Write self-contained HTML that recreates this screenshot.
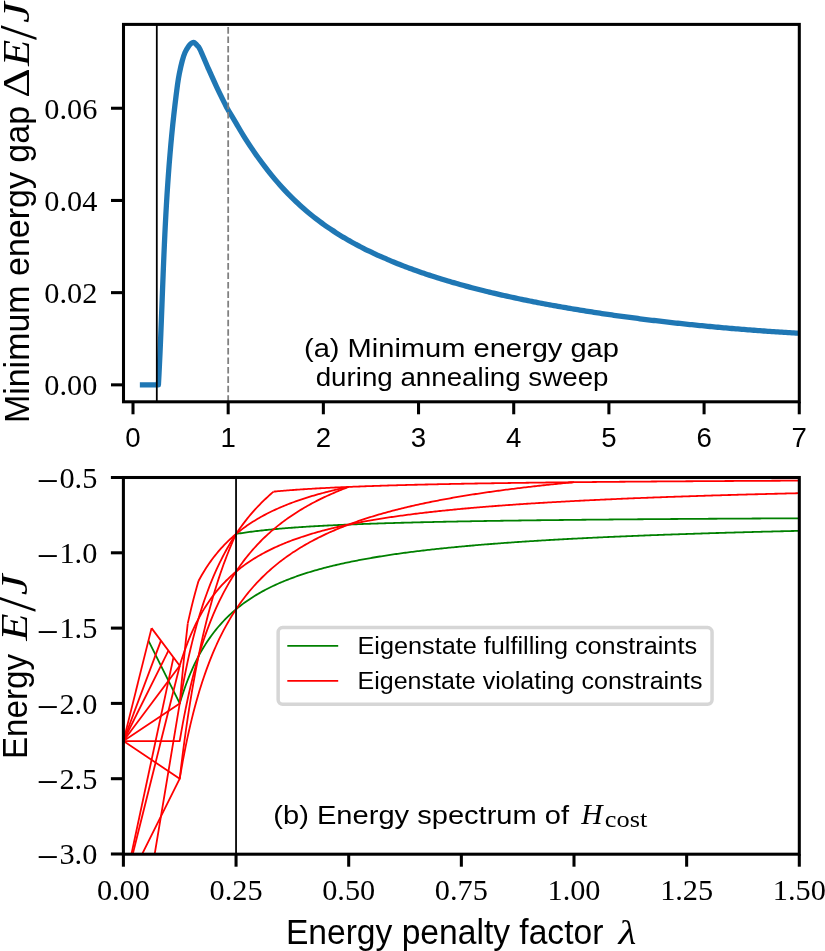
<!DOCTYPE html>
<html><head><meta charset="utf-8"><title>Energy gap and spectrum</title>
<style>html,body{margin:0;padding:0;background:#fff;}svg{display:block;}</style></head>
<body><svg width="825" height="951" viewBox="0 0 825 951">
<rect width="825" height="951" fill="#fff"/>
<defs><clipPath id="ct"><rect x="123.5" y="24.4" width="675.8" height="377.4"/></clipPath>
<clipPath id="cb"><rect x="123.4" y="477.5" width="675.9" height="376.7"/></clipPath></defs>
<g clip-path="url(#ct)">
<path d="M142.5,384.85 L158.41,384.85 L158.95,374.85 L159.45,364.85 L159.92,354.85 L160.36,344.85 L160.78,334.85 L161.18,324.85 L161.57,314.85 L161.96,304.85 L162.33,294.85 L162.72,284.85 L163.11,274.85 L163.51,264.85 L163.93,254.85 L164.37,244.85 L164.83,234.85 L165.32,224.85 L165.85,214.85 L166.42,204.85 L167.02,194.85 L167.68,184.85 L168.38,174.85 L169.13,164.85 L169.95,154.85 L170.82,144.85 L171.75,134.85 L172.75,124.85 L173.82,114.85 L174.97,104.85 L176.19,94.85 L177.48,84.85  C178,81.34 178.51,77.78 179.3,73.8 C180.09,69.82 181.25,64.55 182.2,61 C183.15,57.45 183.9,55 185,52.5 C186.1,50 187.72,47.55 188.8,46 C189.88,44.45 190.72,43.82 191.5,43.2 C192.28,42.58 193.17,42.45 193.5,42.3 C193.8,42.48 194.67,42.85 195.3,43.4 C195.93,43.95 196.52,44.6 197.3,45.6 C198.08,46.6 198.22,45.7 200,49.4 C201.78,53.1 205.23,61.57 208,67.8 C210.77,74.03 213.68,80.6 216.6,86.8 C219.52,93 223.62,101.2 225.5,105 C227.38,108.8 227.5,108.83 227.9,109.6 C229.23,111.82 233.9,119.55 235.9,122.9 C237.9,126.26 238.57,127.51 239.9,129.74 C241.23,131.97 242.57,134.15 243.9,136.29 C245.23,138.44 246.57,140.53 247.9,142.59 C249.23,144.64 250.57,146.66 251.9,148.63 C253.23,150.61 254.57,152.55 255.9,154.45 C257.23,156.35 258.57,158.21 259.9,160.04 C261.23,161.87 262.57,163.66 263.9,165.42 C265.23,167.18 266.57,168.91 267.9,170.6 C269.23,172.3 270.57,173.95 271.9,175.58 C273.23,177.21 274.57,178.81 275.9,180.37 C277.23,181.93 278.57,183.47 279.9,184.97 C281.23,186.47 282.57,187.94 283.9,189.38 C285.23,190.82 286.57,192.23 287.9,193.61 C289.23,194.99 290.57,196.33 291.9,197.65 C293.23,198.97 294.57,200.26 295.9,201.53 C297.23,202.79 298.57,204.03 299.9,205.24 C301.23,206.45 302.57,207.64 303.9,208.8 C305.23,209.96 306.57,211.1 307.9,212.21 C309.23,213.33 310.57,214.42 311.9,215.49 C313.23,216.56 314.57,217.61 315.9,218.64 C317.23,219.67 318.57,220.67 319.9,221.66 C321.23,222.65 322.57,223.62 323.9,224.57 C325.23,225.53 326.57,226.46 327.9,227.38 C329.23,228.29 330.57,229.19 331.9,230.07 C333.23,230.96 334.57,231.82 335.9,232.67 C337.23,233.52 338.57,234.36 339.9,235.18 C341.23,236 342.57,236.81 343.9,237.6 C345.23,238.39 346.57,239.17 347.9,239.94 C349.23,240.7 350.57,241.46 351.9,242.2 C353.23,242.94 354.57,243.66 355.9,244.38 C357.23,245.1 358.57,245.8 359.9,246.5 C361.23,247.19 362.57,247.87 363.9,248.54 C365.23,249.22 366.57,249.88 367.9,250.53 C369.23,251.18 370.57,251.83 371.9,252.46 C373.23,253.09 374.57,253.72 375.9,254.33 C377.23,254.95 378.57,255.55 379.9,256.15 C381.23,256.75 382.57,257.34 383.9,257.92 C385.23,258.51 386.57,259.08 387.9,259.65 C389.23,260.22 390.57,260.78 391.9,261.33 C393.23,261.88 394.57,262.43 395.9,262.97 C397.23,263.5 398.57,264.04 399.9,264.56 C401.23,265.09 402.57,265.6 403.9,266.12 C405.23,266.63 406.57,267.13 407.9,267.63 C409.23,268.13 410.57,268.63 411.9,269.11 C413.23,269.6 414.57,270.08 415.9,270.56 C417.23,271.03 418.57,271.5 419.9,271.97 C421.23,272.43 422.57,272.89 423.9,273.35 C425.23,273.8 426.57,274.25 427.9,274.69 C429.23,275.14 430.57,275.57 431.9,276.01 C433.23,276.44 434.57,276.87 435.9,277.29 C437.23,277.72 438.57,278.14 439.9,278.55 C441.23,278.97 442.57,279.38 443.9,279.78 C445.23,280.19 446.57,280.59 447.9,280.99 C449.23,281.38 450.57,281.78 451.9,282.17 C453.23,282.56 454.57,282.94 455.9,283.32 C457.23,283.7 458.57,284.08 459.9,284.45 C461.23,284.82 462.57,285.19 463.9,285.56 C465.23,285.92 466.57,286.28 467.9,286.64 C469.23,287 470.57,287.35 471.9,287.7 C473.23,288.05 474.57,288.4 475.9,288.75 C477.23,289.09 478.57,289.43 479.9,289.77 C481.23,290.1 482.57,290.44 483.9,290.77 C485.23,291.1 486.57,291.43 487.9,291.75 C489.23,292.08 490.57,292.4 491.9,292.71 C493.23,293.03 494.57,293.35 495.9,293.66 C497.23,293.97 498.57,294.28 499.9,294.59 C501.23,294.89 502.57,295.2 503.9,295.5 C505.23,295.8 506.57,296.1 507.9,296.39 C509.23,296.69 510.57,296.98 511.9,297.27 C513.23,297.56 514.57,297.85 515.9,298.13 C517.23,298.42 518.57,298.7 519.9,298.98 C521.23,299.26 522.57,299.54 523.9,299.81 C525.23,300.09 526.57,300.36 527.9,300.63 C529.23,300.9 530.57,301.17 531.9,301.43 C533.23,301.7 534.57,301.96 535.9,302.22 C537.23,302.49 538.57,302.74 539.9,303 C541.23,303.26 542.57,303.51 543.9,303.76 C545.23,304.02 546.57,304.27 547.9,304.51 C549.23,304.76 550.57,305.01 551.9,305.25 C553.23,305.49 554.57,305.74 555.9,305.98 C557.23,306.22 558.57,306.45 559.9,306.69 C561.23,306.93 562.57,307.16 563.9,307.39 C565.23,307.62 566.57,307.85 567.9,308.08 C569.23,308.31 570.57,308.53 571.9,308.76 C573.23,308.98 574.57,309.21 575.9,309.43 C577.23,309.65 578.57,309.87 579.9,310.08 C581.23,310.3 582.57,310.52 583.9,310.73 C585.23,310.94 586.57,311.16 587.9,311.37 C589.23,311.58 590.57,311.78 591.9,311.99 C593.23,312.2 594.57,312.4 595.9,312.61 C597.23,312.81 598.57,313.01 599.9,313.21 C601.23,313.41 602.57,313.61 603.9,313.81 C605.23,314 606.57,314.2 607.9,314.39 C609.23,314.59 610.57,314.78 611.9,314.97 C613.23,315.16 614.57,315.35 615.9,315.54 C617.23,315.73 618.57,315.91 619.9,316.1 C621.23,316.28 622.57,316.47 623.9,316.65 C625.23,316.83 626.57,317.01 627.9,317.19 C629.23,317.37 630.57,317.54 631.9,317.72 C633.23,317.9 634.57,318.07 635.9,318.24 C637.23,318.42 638.57,318.59 639.9,318.76 C641.23,318.93 642.57,319.1 643.9,319.27 C645.23,319.43 646.57,319.6 647.9,319.76 C649.23,319.93 650.57,320.09 651.9,320.26 C653.23,320.42 654.57,320.58 655.9,320.74 C657.23,320.9 658.57,321.06 659.9,321.21 C661.23,321.37 662.57,321.53 663.9,321.68 C665.23,321.83 666.57,321.99 667.9,322.14 C669.23,322.29 670.57,322.44 671.9,322.59 C673.23,322.74 674.57,322.89 675.9,323.03 C677.23,323.18 678.57,323.33 679.9,323.47 C681.23,323.61 682.57,323.76 683.9,323.9 C685.23,324.04 686.57,324.18 687.9,324.32 C689.23,324.46 690.57,324.6 691.9,324.73 C693.23,324.87 694.57,325.01 695.9,325.14 C697.23,325.28 698.57,325.41 699.9,325.54 C701.23,325.67 702.57,325.8 703.9,325.93 C705.23,326.06 706.57,326.19 707.9,326.32 C709.23,326.45 710.57,326.57 711.9,326.7 C713.23,326.82 714.57,326.95 715.9,327.07 C717.23,327.19 718.57,327.31 719.9,327.43 C721.23,327.56 722.57,327.67 723.9,327.79 C725.23,327.91 726.57,328.03 727.9,328.14 C729.23,328.26 730.57,328.37 731.9,328.49 C733.23,328.6 734.57,328.71 735.9,328.82 C737.23,328.94 738.57,329.05 739.9,329.15 C741.23,329.26 742.57,329.37 743.9,329.48 C745.23,329.59 746.57,329.69 747.9,329.8 C749.23,329.9 750.57,330 751.9,330.11 C753.23,330.21 754.57,330.31 755.9,330.41 C757.23,330.51 758.57,330.61 759.9,330.71 C761.23,330.8 762.57,330.9 763.9,331 C765.23,331.09 766.57,331.19 767.9,331.28 C769.23,331.37 770.57,331.47 771.9,331.56 C773.23,331.65 774.57,331.74 775.9,331.83 C777.23,331.92 778.57,332.01 779.9,332.09 C781.23,332.18 782.57,332.27 783.9,332.35 C785.23,332.44 786.57,332.52 787.9,332.6 C789.23,332.69 790.57,332.77 791.9,332.85 C793.23,332.93 794.57,333.01 795.9,333.09 C797.23,333.16 798.57,333.24 799.9,333.32 C801.23,333.39 803.23,333.51 803.9,333.54" fill="none" stroke="#1f77b4" stroke-width="5.3" stroke-linejoin="round" stroke-linecap="square"/>
</g>
<line x1="156.8" y1="24.4" x2="156.8" y2="401.8" stroke="#000" stroke-width="1.78"/>
<line x1="228.18" y1="401.8" x2="228.18" y2="24.4" stroke="#808080" stroke-width="1.78" stroke-dasharray="6.59 2.85"/>
<rect x="123.5" y="24.4" width="675.8" height="377.4" fill="none" stroke="#000" stroke-width="3.05"/>
<line x1="133" y1="401.8" x2="133" y2="414.3" stroke="#000" stroke-width="3.05"/>
<text x="133" y="447.1" font-family="Liberation Sans, sans-serif" font-size="27.6" text-anchor="middle">0</text>
<line x1="228.18" y1="401.8" x2="228.18" y2="414.3" stroke="#000" stroke-width="3.05"/>
<text x="228.18" y="447.1" font-family="Liberation Sans, sans-serif" font-size="27.6" text-anchor="middle">1</text>
<line x1="323.36" y1="401.8" x2="323.36" y2="414.3" stroke="#000" stroke-width="3.05"/>
<text x="323.36" y="447.1" font-family="Liberation Sans, sans-serif" font-size="27.6" text-anchor="middle">2</text>
<line x1="418.54" y1="401.8" x2="418.54" y2="414.3" stroke="#000" stroke-width="3.05"/>
<text x="418.54" y="447.1" font-family="Liberation Sans, sans-serif" font-size="27.6" text-anchor="middle">3</text>
<line x1="513.72" y1="401.8" x2="513.72" y2="414.3" stroke="#000" stroke-width="3.05"/>
<text x="513.72" y="447.1" font-family="Liberation Sans, sans-serif" font-size="27.6" text-anchor="middle">4</text>
<line x1="608.9" y1="401.8" x2="608.9" y2="414.3" stroke="#000" stroke-width="3.05"/>
<text x="608.9" y="447.1" font-family="Liberation Sans, sans-serif" font-size="27.6" text-anchor="middle">5</text>
<line x1="704.08" y1="401.8" x2="704.08" y2="414.3" stroke="#000" stroke-width="3.05"/>
<text x="704.08" y="447.1" font-family="Liberation Sans, sans-serif" font-size="27.6" text-anchor="middle">6</text>
<line x1="799.26" y1="401.8" x2="799.26" y2="414.3" stroke="#000" stroke-width="3.05"/>
<text x="799.26" y="447.1" font-family="Liberation Sans, sans-serif" font-size="27.6" text-anchor="middle">7</text>
<line x1="111" y1="384.85" x2="123.5" y2="384.85" stroke="#000" stroke-width="3.05"/>
<text x="97.3" y="395.35" font-family="Liberation Serif, serif" font-size="30.3" text-anchor="end">0.00</text>
<line x1="111" y1="292.65" x2="123.5" y2="292.65" stroke="#000" stroke-width="3.05"/>
<text x="97.3" y="303.15" font-family="Liberation Serif, serif" font-size="30.3" text-anchor="end">0.02</text>
<line x1="111" y1="200.45" x2="123.5" y2="200.45" stroke="#000" stroke-width="3.05"/>
<text x="97.3" y="210.95" font-family="Liberation Serif, serif" font-size="30.3" text-anchor="end">0.04</text>
<line x1="111" y1="108.25" x2="123.5" y2="108.25" stroke="#000" stroke-width="3.05"/>
<text x="97.3" y="118.75" font-family="Liberation Serif, serif" font-size="30.3" text-anchor="end">0.06</text>
<g transform="translate(28.7,420.4) rotate(-90)"><text x="-2.72" y="0.00" font-family="Liberation Sans, sans-serif" font-size="34.8" textLength="317.17" lengthAdjust="spacingAndGlyphs">Minimum energy gap</text><text x="322.65" y="0.00" font-family="Liberation Serif, serif" font-size="38" textLength="29.45" lengthAdjust="spacingAndGlyphs">&#916;</text><text x="354.30" y="0.00" font-family="Liberation Serif, serif" font-size="38" font-style="italic" textLength="26.2" lengthAdjust="spacingAndGlyphs">E</text><text x="380.30" y="7.70" font-family="Liberation Serif, serif" font-size="52.7">/</text><text x="397.30" y="0.00" font-family="Liberation Serif, serif" font-size="38" font-style="italic" textLength="20.6" lengthAdjust="spacingAndGlyphs">J</text></g>
<text x="303.96" y="356.60" font-family="Liberation Sans, sans-serif" font-size="26.5" textLength="314.99" lengthAdjust="spacingAndGlyphs">(a) Minimum energy gap</text>
<text x="315.69" y="386.20" font-family="Liberation Sans, sans-serif" font-size="26.5" textLength="292.78" lengthAdjust="spacingAndGlyphs">during annealing sweep</text>
<g id="lines" clip-path="url(#cb)" fill="none" stroke-width="1.8" stroke-linejoin="round">
<path d="M148.43,640.65 L179.73,703.40 L181.23,698.50 L182.73,693.86 L184.24,689.44 L185.74,685.24 L187.24,681.23 L188.75,677.41 L190.25,673.76 L191.76,670.27 L193.26,666.93 L194.76,663.73 L196.27,660.66 L197.77,657.72 L199.27,654.90 L200.78,652.18 L202.28,649.57 L203.79,647.05 L205.29,644.63 L206.79,642.30 L208.30,640.04 L209.80,637.87 L211.31,635.77 L212.81,633.74 L214.31,631.78 L215.82,629.88 L217.32,628.05 L218.82,626.27 L220.33,624.54 L221.83,622.87 L223.34,621.25 L224.84,619.68 L226.34,618.15 L227.85,616.67 L229.35,615.23 L230.85,613.83 L232.36,612.46 L233.86,611.14 L235.37,609.85 L236.87,608.59 L238.37,607.37 L239.88,606.18 L241.38,605.02 L242.89,603.89 L244.39,602.79 L245.89,601.71 L247.40,600.66 L248.90,599.64 L250.40,598.64 L251.91,597.66 L253.41,596.71 L254.92,595.77 L256.42,594.86 L257.92,593.97 L259.43,593.10 L260.93,592.25 L262.44,591.41 L263.94,590.60 L265.44,589.80 L266.95,589.02 L268.45,588.25 L269.95,587.50 L271.46,586.76 L272.96,586.04 L274.47,585.34 L275.97,584.65 L277.47,583.97 L278.98,583.30 L280.48,582.65 L281.98,582.01 L283.49,581.38 L284.99,580.77 L286.50,580.16 L288.00,579.57 L289.50,578.98 L291.01,578.41 L292.51,577.85 L294.02,577.30 L295.52,576.75 L297.02,576.22 L298.53,575.70 L300.03,575.18 L301.53,574.67 L303.04,574.18 L304.54,573.69 L306.05,573.20 L307.55,572.73 L309.05,572.26 L310.56,571.80 L312.06,571.35 L313.57,570.91 L315.07,570.47 L316.57,570.04 L318.08,569.62 L319.58,569.20 L321.08,568.79 L322.59,568.38 L324.09,567.98 L325.60,567.59 L327.10,567.20 L328.60,566.82 L330.11,566.45 L331.61,566.08 L333.11,565.71 L334.62,565.35 L336.12,565.00 L337.63,564.65 L339.13,564.30 L340.63,563.96 L342.14,563.62 L343.64,563.29 L345.15,562.97 L346.65,562.64 L348.15,562.33 L349.66,562.01 L351.16,561.70 L352.66,561.40 L354.17,561.10 L355.67,560.80 L357.18,560.51 L358.68,560.22 L360.18,559.93 L361.69,559.65 L363.19,559.37 L364.70,559.09 L366.20,558.82 L367.70,558.55 L369.21,558.29 L370.71,558.02 L372.21,557.76 L373.72,557.51 L375.22,557.26 L376.73,557.01 L378.23,556.76 L379.73,556.51 L381.24,556.27 L382.74,556.04 L384.24,555.80 L385.75,555.57 L387.25,555.34 L388.76,555.11 L390.26,554.88 L391.76,554.66 L393.27,554.44 L394.77,554.22 L396.28,554.01 L397.78,553.79 L399.28,553.58 L400.79,553.38 L402.29,553.17 L403.79,552.97 L405.30,552.76 L406.80,552.56 L408.31,552.37 L409.81,552.17 L411.31,551.98 L412.82,551.79 L414.32,551.60 L415.83,551.41 L417.33,551.22 L418.83,551.04 L420.34,550.86 L421.84,550.68 L423.34,550.50 L424.85,550.32 L426.35,550.15 L427.86,549.98 L429.36,549.81 L430.86,549.64 L432.37,549.47 L433.87,549.30 L435.37,549.14 L436.88,548.97 L438.38,548.81 L439.89,548.65 L441.39,548.49 L442.89,548.34 L444.40,548.18 L445.90,548.03 L447.41,547.88 L448.91,547.72 L450.41,547.57 L451.92,547.43 L453.42,547.28 L454.92,547.13 L456.43,546.99 L457.93,546.85 L459.44,546.70 L460.94,546.56 L462.44,546.42 L463.95,546.29 L465.45,546.15 L466.96,546.01 L468.46,545.88 L469.96,545.75 L471.47,545.61 L472.97,545.48 L474.47,545.35 L475.98,545.22 L477.48,545.10 L478.99,544.97 L480.49,544.84 L481.99,544.72 L483.50,544.60 L485.00,544.47 L486.50,544.35 L488.01,544.23 L489.51,544.11 L491.02,543.99 L492.52,543.88 L494.02,543.76 L495.53,543.64 L497.03,543.53 L498.54,543.41 L500.04,543.30 L501.54,543.19 L503.05,543.08 L504.55,542.97 L506.05,542.86 L507.56,542.75 L509.06,542.64 L510.57,542.54 L512.07,542.43 L513.57,542.33 L515.08,542.22 L516.58,542.12 L518.09,542.01 L519.59,541.91 L521.09,541.81 L522.60,541.71 L524.10,541.61 L525.60,541.51 L527.11,541.41 L528.61,541.32 L530.12,541.22 L531.62,541.12 L533.12,541.03 L534.63,540.93 L536.13,540.84 L537.63,540.75 L539.14,540.65 L540.64,540.56 L542.15,540.47 L543.65,540.38 L545.15,540.29 L546.66,540.20 L548.16,540.11 L549.67,540.02 L551.17,539.94 L552.67,539.85 L554.18,539.76 L555.68,539.68 L557.18,539.59 L558.69,539.51 L560.19,539.43 L561.70,539.34 L563.20,539.26 L564.70,539.18 L566.21,539.10 L567.71,539.01 L569.22,538.93 L570.72,538.85 L572.22,538.77 L573.73,538.70 L575.23,538.62 L576.73,538.54 L578.24,538.46 L579.74,538.39 L581.25,538.31 L582.75,538.23 L584.25,538.16 L585.76,538.08 L587.26,538.01 L588.76,537.93 L590.27,537.86 L591.77,537.79 L593.28,537.72 L594.78,537.64 L596.28,537.57 L597.79,537.50 L599.29,537.43 L600.80,537.36 L602.30,537.29 L603.80,537.22 L605.31,537.15 L606.81,537.08 L608.31,537.02 L609.82,536.95 L611.32,536.88 L612.83,536.81 L614.33,536.75 L615.83,536.68 L617.34,536.62 L618.84,536.55 L620.35,536.49 L621.85,536.42 L623.35,536.36 L624.86,536.29 L626.36,536.23 L627.86,536.17 L629.37,536.11 L630.87,536.04 L632.38,535.98 L633.88,535.92 L635.38,535.86 L636.89,535.80 L638.39,535.74 L639.89,535.68 L641.40,535.62 L642.90,535.56 L644.41,535.50 L645.91,535.44 L647.41,535.38 L648.92,535.33 L650.42,535.27 L651.93,535.21 L653.43,535.15 L654.93,535.10 L656.44,535.04 L657.94,534.99 L659.44,534.93 L660.95,534.88 L662.45,534.82 L663.96,534.77 L665.46,534.71 L666.96,534.66 L668.47,534.60 L669.97,534.55 L671.48,534.50 L672.98,534.44 L674.48,534.39 L675.99,534.34 L677.49,534.29 L678.99,534.23 L680.50,534.18 L682.00,534.13 L683.51,534.08 L685.01,534.03 L686.51,533.98 L688.02,533.93 L689.52,533.88 L691.02,533.83 L692.53,533.78 L694.03,533.73 L695.54,533.68 L697.04,533.63 L698.54,533.59 L700.05,533.54 L701.55,533.49 L703.06,533.44 L704.56,533.39 L706.06,533.35 L707.57,533.30 L709.07,533.25 L710.57,533.21 L712.08,533.16 L713.58,533.12 L715.09,533.07 L716.59,533.02 L718.09,532.98 L719.60,532.93 L721.10,532.89 L722.61,532.85 L724.11,532.80 L725.61,532.76 L727.12,532.71 L728.62,532.67 L730.12,532.63 L731.63,532.58 L733.13,532.54 L734.64,532.50 L736.14,532.45 L737.64,532.41 L739.15,532.37 L740.65,532.33 L742.15,532.29 L743.66,532.24 L745.16,532.20 L746.67,532.16 L748.17,532.12 L749.67,532.08 L751.18,532.04 L752.68,532.00 L754.19,531.96 L755.69,531.92 L757.19,531.88 L758.70,531.84 L760.20,531.80 L761.70,531.76 L763.21,531.72 L764.71,531.68 L766.22,531.64 L767.72,531.61 L769.22,531.57 L770.73,531.53 L772.23,531.49 L773.74,531.45 L775.24,531.42 L776.74,531.38 L778.25,531.34 L779.75,531.30 L781.25,531.27 L782.76,531.23 L784.26,531.19 L785.77,531.16 L787.27,531.12 L788.77,531.09 L790.28,531.05 L791.78,531.01 L793.28,530.98 L794.79,530.94 L796.29,530.91 L797.80,530.87 L799.30,530.84" stroke="#008000"/>
<path d="M236.05,533.98 L237.56,533.73 L239.06,533.48 L240.57,533.25 L242.07,533.02 L243.58,532.80 L245.09,532.58 L246.59,532.36 L248.10,532.16 L249.60,531.95 L251.11,531.76 L252.62,531.56 L254.12,531.37 L255.63,531.19 L257.13,531.01 L258.64,530.83 L260.15,530.66 L261.65,530.49 L263.16,530.32 L264.66,530.16 L266.17,530.00 L267.68,529.85 L269.18,529.70 L270.69,529.55 L272.19,529.40 L273.70,529.26 L275.21,529.12 L276.71,528.98 L278.22,528.85 L279.72,528.72 L281.23,528.59 L282.74,528.46 L284.24,528.33 L285.75,528.21 L287.25,528.09 L288.76,527.97 L290.27,527.86 L291.77,527.74 L293.28,527.63 L294.78,527.52 L296.29,527.42 L297.80,527.31 L299.30,527.21 L300.81,527.10 L302.31,527.00 L303.82,526.90 L305.33,526.81 L306.83,526.71 L308.34,526.62 L309.84,526.52 L311.35,526.43 L312.86,526.34 L314.36,526.25 L315.87,526.17 L317.37,526.08 L318.88,526.00 L320.39,525.92 L321.89,525.83 L323.40,525.75 L324.90,525.67 L326.41,525.60 L327.92,525.52 L329.42,525.44 L330.93,525.37 L332.44,525.29 L333.94,525.22 L335.45,525.15 L336.95,525.08 L338.46,525.01 L339.97,524.94 L341.47,524.87 L342.98,524.81 L344.48,524.74 L345.99,524.68 L347.50,524.61 L349.00,524.55 L350.51,524.49 L352.01,524.43 L353.52,524.37 L355.03,524.31 L356.53,524.25 L358.04,524.19 L359.54,524.13 L361.05,524.07 L362.56,524.02 L364.06,523.96 L365.57,523.91 L367.07,523.85 L368.58,523.80 L370.09,523.75 L371.59,523.69 L373.10,523.64 L374.60,523.59 L376.11,523.54 L377.62,523.49 L379.12,523.44 L380.63,523.39 L382.13,523.35 L383.64,523.30 L385.15,523.25 L386.65,523.21 L388.16,523.16 L389.66,523.11 L391.17,523.07 L392.68,523.03 L394.18,522.98 L395.69,522.94 L397.19,522.90 L398.70,522.85 L400.21,522.81 L401.71,522.77 L403.22,522.73 L404.72,522.69 L406.23,522.65 L407.74,522.61 L409.24,522.57 L410.75,522.53 L412.25,522.49 L413.76,522.45 L415.27,522.42 L416.77,522.38 L418.28,522.34 L419.78,522.31 L421.29,522.27 L422.80,522.23 L424.30,522.20 L425.81,522.16 L427.31,522.13 L428.82,522.09 L430.33,522.06 L431.83,522.03 L433.34,521.99 L434.84,521.96 L436.35,521.93 L437.86,521.89 L439.36,521.86 L440.87,521.83 L442.37,521.80 L443.88,521.77 L445.39,521.74 L446.89,521.71 L448.40,521.68 L449.90,521.64 L451.41,521.62 L452.92,521.59 L454.42,521.56 L455.93,521.53 L457.43,521.50 L458.94,521.47 L460.45,521.44 L461.95,521.41 L463.46,521.39 L464.96,521.36 L466.47,521.33 L467.98,521.30 L469.48,521.28 L470.99,521.25 L472.49,521.22 L474.00,521.20 L475.51,521.17 L477.01,521.15 L478.52,521.12 L480.02,521.10 L481.53,521.07 L483.04,521.05 L484.54,521.02 L486.05,521.00 L487.55,520.97 L489.06,520.95 L490.57,520.93 L492.07,520.90 L493.58,520.88 L495.08,520.86 L496.59,520.83 L498.10,520.81 L499.60,520.79 L501.11,520.76 L502.61,520.74 L504.12,520.72 L505.63,520.70 L507.13,520.68 L508.64,520.65 L510.14,520.63 L511.65,520.61 L513.16,520.59 L514.66,520.57 L516.17,520.55 L517.67,520.53 L519.18,520.51 L520.69,520.49 L522.19,520.47 L523.70,520.45 L525.21,520.43 L526.71,520.41 L528.22,520.39 L529.72,520.37 L531.23,520.35 L532.74,520.33 L534.24,520.31 L535.75,520.29 L537.25,520.27 L538.76,520.26 L540.27,520.24 L541.77,520.22 L543.28,520.20 L544.78,520.18 L546.29,520.16 L547.80,520.15 L549.30,520.13 L550.81,520.11 L552.31,520.09 L553.82,520.08 L555.33,520.06 L556.83,520.04 L558.34,520.03 L559.84,520.01 L561.35,519.99 L562.86,519.98 L564.36,519.96 L565.87,519.94 L567.37,519.93 L568.88,519.91 L570.39,519.89 L571.89,519.88 L573.40,519.86 L574.90,519.85 L576.41,519.83 L577.92,519.82 L579.42,519.80 L580.93,519.78 L582.43,519.77 L583.94,519.75 L585.45,519.74 L586.95,519.72 L588.46,519.71 L589.96,519.70 L591.47,519.68 L592.98,519.67 L594.48,519.65 L595.99,519.64 L597.49,519.62 L599.00,519.61 L600.51,519.59 L602.01,519.58 L603.52,519.57 L605.02,519.55 L606.53,519.54 L608.04,519.53 L609.54,519.51 L611.05,519.50 L612.55,519.49 L614.06,519.47 L615.57,519.46 L617.07,519.45 L618.58,519.43 L620.08,519.42 L621.59,519.41 L623.10,519.39 L624.60,519.38 L626.11,519.37 L627.61,519.36 L629.12,519.34 L630.63,519.33 L632.13,519.32 L633.64,519.31 L635.14,519.29 L636.65,519.28 L638.16,519.27 L639.66,519.26 L641.17,519.25 L642.67,519.23 L644.18,519.22 L645.69,519.21 L647.19,519.20 L648.70,519.19 L650.20,519.18 L651.71,519.16 L653.22,519.15 L654.72,519.14 L656.23,519.13 L657.73,519.12 L659.24,519.11 L660.75,519.10 L662.25,519.09 L663.76,519.07 L665.26,519.06 L666.77,519.05 L668.28,519.04 L669.78,519.03 L671.29,519.02 L672.79,519.01 L674.30,519.00 L675.81,518.99 L677.31,518.98 L678.82,518.97 L680.32,518.96 L681.83,518.95 L683.34,518.94 L684.84,518.93 L686.35,518.92 L687.85,518.91 L689.36,518.90 L690.87,518.89 L692.37,518.88 L693.88,518.87 L695.38,518.86 L696.89,518.85 L698.40,518.84 L699.90,518.83 L701.41,518.82 L702.91,518.81 L704.42,518.80 L705.93,518.79 L707.43,518.78 L708.94,518.77 L710.45,518.76 L711.95,518.75 L713.46,518.74 L714.96,518.73 L716.47,518.73 L717.98,518.72 L719.48,518.71 L720.99,518.70 L722.49,518.69 L724.00,518.68 L725.51,518.67 L727.01,518.66 L728.52,518.65 L730.02,518.65 L731.53,518.64 L733.04,518.63 L734.54,518.62 L736.05,518.61 L737.55,518.60 L739.06,518.59 L740.57,518.59 L742.07,518.58 L743.58,518.57 L745.08,518.56 L746.59,518.55 L748.10,518.54 L749.60,518.54 L751.11,518.53 L752.61,518.52 L754.12,518.51 L755.63,518.50 L757.13,518.50 L758.64,518.49 L760.14,518.48 L761.65,518.47 L763.16,518.46 L764.66,518.46 L766.17,518.45 L767.67,518.44 L769.18,518.43 L770.69,518.43 L772.19,518.42 L773.70,518.41 L775.20,518.40 L776.71,518.40 L778.22,518.39 L779.72,518.38 L781.23,518.37 L782.73,518.37 L784.24,518.36 L785.75,518.35 L787.25,518.34 L788.76,518.34 L790.26,518.33 L791.77,518.32 L793.28,518.32 L794.78,518.31 L796.29,518.30 L797.79,518.29 L799.30,518.29" stroke="#008000"/>
<path d="M123.40,741.05 L151.56,628.10" stroke="#ff0000"/>
<path d="M123.40,741.05 L160.95,640.65" stroke="#ff0000"/>
<path d="M123.40,741.05 L168.46,650.69" stroke="#ff0000"/>
<path d="M123.40,741.05 L179.73,665.75" stroke="#ff0000"/>
<path d="M187.77,623.39 L189.56,615.38 L191.35,607.79 L193.14,600.59 L194.92,593.74 L196.71,587.24 L198.50,581.04" stroke="#ff0000"/>
<path d="M123.40,741.05 L179.73,703.40 L181.26,694.39 L182.80,685.84 L184.34,677.73 L185.88,670.02 L187.42,662.67 L188.96,655.67 L190.50,649.00 L192.04,642.62 L193.58,636.52 L195.11,630.69 L196.65,625.09 L198.19,619.73 L199.73,614.59 L201.27,609.65 L202.81,604.90 L204.35,600.33 L205.89,595.93 L207.43,591.69 L208.96,587.61 L210.50,583.67 L212.04,579.86 L213.58,576.19 L215.12,572.64 L216.66,569.20 L218.20,565.88 L219.74,562.66 L221.28,559.55 L222.82,556.53 L224.35,553.60 L225.89,550.76 L227.43,548.01 L228.97,545.34 L230.51,542.74 L232.05,540.21 L233.59,537.76 L235.13,535.38 L236.67,533.05 L238.20,530.80 L239.74,528.60 L241.28,526.45 L242.82,524.37 L244.36,522.34 L245.90,520.35 L247.44,518.42 L248.98,516.53 L250.52,514.69 L252.05,512.90 L253.59,511.14 L255.13,509.43 L256.67,507.76 L258.21,506.12 L259.75,504.53 L261.29,502.96 L262.83,501.44 L264.37,499.94 L265.91,498.48 L267.44,497.05 L268.98,495.65 L270.52,494.28 L272.06,492.93 L273.60,491.62" stroke="#ff0000"/>
<path d="M123.40,741.05 L179.73,741.05 L181.25,732.13 L182.77,723.67 L184.29,715.64 L185.81,707.99 L187.34,700.71 L188.86,693.77 L190.38,687.14 L191.90,680.81 L193.43,674.75 L194.95,668.95 L196.47,663.40 L197.99,658.07 L199.51,652.95 L201.04,648.03 L202.56,643.30 L204.08,638.76 L205.60,634.38 L207.13,630.15 L208.65,626.08 L210.17,622.16 L211.69,618.36 L213.22,614.70 L214.74,611.16 L216.26,607.73 L217.78,604.42 L219.30,601.21 L220.83,598.10 L222.35,595.08 L223.87,592.16 L225.39,589.33 L226.92,586.57 L228.44,583.90 L229.96,581.31 L231.48,578.78 L233.01,576.33 L234.53,573.95 L236.05,571.62 L237.57,569.37 L239.09,567.17 L240.62,565.02 L242.14,562.94 L243.66,560.90 L245.18,558.92 L246.71,556.98 L248.23,555.10 L249.75,553.25 L251.27,551.46 L252.80,549.70 L254.32,547.98 L255.84,546.31 L257.36,544.67 L258.88,543.07 L260.41,541.50 L261.93,539.97 L263.45,538.48 L264.97,537.01 L266.50,535.58 L268.02,534.17 L269.54,532.80 L271.06,531.45 L272.59,530.13 L274.11,528.84 L275.63,527.57 L277.15,526.33 L278.67,525.12 L280.20,523.92 L281.72,522.75 L283.24,521.60 L284.76,520.48 L286.29,519.37 L287.81,518.29 L289.33,517.22 L290.85,516.18 L292.38,515.15 L293.90,514.14 L295.42,513.15 L296.94,512.18 L298.46,511.22 L299.99,510.28 L301.51,509.36 L303.03,508.45 L304.55,507.56 L306.08,506.68 L307.60,505.82 L309.12,504.97 L310.64,504.13 L312.16,503.31 L313.69,502.50 L315.21,501.70 L316.73,500.92 L318.25,500.15 L319.78,499.39 L321.30,498.64 L322.82,497.91 L324.34,497.18 L325.87,496.47 L327.39,495.76 L328.91,495.07 L330.43,494.39 L331.95,493.71 L333.48,493.05 L335.00,492.40 L336.52,491.75 L338.04,491.12 L339.57,490.49 L341.09,489.87 L342.61,489.27 L344.13,488.67 L345.66,488.07 L347.18,487.49 L348.70,486.91" stroke="#ff0000"/>
<path d="M123.40,741.05 L179.73,778.70 L181.24,769.85 L182.75,761.45 L184.26,753.47 L185.77,745.87 L187.28,738.63 L188.79,731.73 L190.30,725.14 L191.81,718.84 L193.32,712.81 L194.83,707.04 L196.34,701.51 L197.85,696.20 L199.36,691.10 L200.87,686.20 L202.38,681.49 L203.90,676.95 L205.41,672.59 L206.92,668.38 L208.43,664.32 L209.94,660.40 L211.45,656.61 L212.96,652.96 L214.47,649.42 L215.98,646.00 L217.49,642.69 L219.00,639.49 L220.51,636.38 L222.02,633.37 L223.53,630.45 L225.04,627.62 L226.55,624.87 L228.07,622.20 L229.58,619.61 L231.09,617.08 L232.60,614.63 L234.11,612.25 L235.62,609.93 L237.13,607.67 L238.64,605.47 L240.15,603.32 L241.66,601.24 L243.17,599.20 L244.68,597.22 L246.19,595.28 L247.70,593.39 L249.21,591.55 L250.72,589.75 L252.24,587.99 L253.75,586.27 L255.26,584.60 L256.77,582.96 L258.28,581.35 L259.79,579.79 L261.30,578.25 L262.81,576.75 L264.32,575.29 L265.83,573.85 L267.34,572.44 L268.85,571.07 L270.36,569.72 L271.87,568.40 L273.38,567.10 L274.89,565.83 L276.41,564.59 L277.92,563.37 L279.43,562.17 L280.94,561.00 L282.45,559.85 L283.96,558.72 L285.47,557.61 L286.98,556.53 L288.49,555.46 L290.00,554.41 L291.51,553.38 L293.02,552.37 L294.53,551.38 L296.04,550.40 L297.55,549.44 L299.06,548.50 L300.58,547.57 L302.09,546.66 L303.60,545.77 L305.11,544.89 L306.62,544.02 L308.13,543.17 L309.64,542.33 L311.15,541.50 L312.66,540.69 L314.17,539.90 L315.68,539.11 L317.19,538.34 L318.70,537.57 L320.21,536.82 L321.72,536.08 L323.24,535.36 L324.75,534.64 L326.26,533.93 L327.77,533.24 L329.28,532.55 L330.79,531.88 L332.30,531.21 L333.81,530.56 L335.32,529.91 L336.83,529.27 L338.34,528.65 L339.85,528.03 L341.36,527.41 L342.87,526.81 L344.38,526.22 L345.89,525.63 L347.41,525.05 L348.92,524.48 L350.43,523.92 L351.94,523.36 L353.45,522.81 L354.96,522.27 L356.47,521.74 L357.98,521.21 L359.49,520.69 L361.00,520.18 L362.51,519.67 L364.02,519.17 L365.53,518.67 L367.04,518.18 L368.55,517.70 L370.06,517.23 L371.58,516.75 L373.09,516.29 L374.60,515.83 L376.11,515.38 L377.62,514.93 L379.13,514.48 L380.64,514.04 L382.15,513.61 L383.66,513.18 L385.17,512.76 L386.68,512.34 L388.19,511.93 L389.70,511.52 L391.21,511.11 L392.72,510.72 L394.23,510.32 L395.75,509.93 L397.26,509.54 L398.77,509.16 L400.28,508.78 L401.79,508.41 L403.30,508.04 L404.81,507.67 L406.32,507.31 L407.83,506.95 L409.34,506.60 L410.85,506.25 L412.36,505.90 L413.87,505.56 L415.38,505.22 L416.89,504.88 L418.40,504.55 L419.92,504.22 L421.43,503.89 L422.94,503.57 L424.45,503.25 L425.96,502.93 L427.47,502.62 L428.98,502.31 L430.49,502.00 L432.00,501.70 L433.51,501.39 L435.02,501.10 L436.53,500.80 L438.04,500.51 L439.55,500.22 L441.06,499.93 L442.57,499.65 L444.09,499.37 L445.60,499.09 L447.11,498.81 L448.62,498.54 L450.13,498.26 L451.64,498.00 L453.15,497.73 L454.66,497.47 L456.17,497.20 L457.68,496.94 L459.19,496.69 L460.70,496.43 L462.21,496.18 L463.72,495.93 L465.23,495.68 L466.75,495.44 L468.26,495.19 L469.77,494.95 L471.28,494.71 L472.79,494.48 L474.30,494.24 L475.81,494.01 L477.32,493.78 L478.83,493.55 L480.34,493.32 L481.85,493.09 L483.36,492.87 L484.87,492.65 L486.38,492.43 L487.89,492.21 L489.40,492.00 L490.92,491.78 L492.43,491.57 L493.94,491.36 L495.45,491.15 L496.96,490.94 L498.47,490.74 L499.98,490.53 L501.49,490.33 L503.00,490.13 L504.51,489.93 L506.02,489.73 L507.53,489.54 L509.04,489.34 L510.55,489.15 L512.06,488.96 L513.57,488.77 L515.09,488.58 L516.60,488.39 L518.11,488.20 L519.62,488.02 L521.13,487.84 L522.64,487.66 L524.15,487.48 L525.66,487.30 L527.17,487.12 L528.68,486.94 L530.19,486.77 L531.70,486.59 L533.21,486.42 L534.72,486.25 L536.23,486.08 L537.74,485.91 L539.26,485.75 L540.77,485.58 L542.28,485.41 L543.79,485.25 L545.30,485.09 L546.81,484.93 L548.32,484.77 L549.83,484.61 L551.34,484.45 L552.85,484.29 L554.36,484.14 L555.87,483.98 L557.38,483.83 L558.89,483.68 L560.40,483.52 L561.91,483.37 L563.43,483.22 L564.94,483.08 L566.45,482.93 L567.96,482.78 L569.47,482.64 L570.98,482.49 L572.49,482.35 L574.00,482.21" stroke="#ff0000"/>
<path d="M151.56,628.10 L179.73,665.75 L181.23,660.85 L182.73,656.21 L184.24,651.79 L185.74,647.59 L187.24,643.58 L188.75,639.76 L190.25,636.11 L191.76,632.62 L193.26,629.28 L194.76,626.08 L196.27,623.01 L197.77,620.07 L199.27,617.25 L200.78,614.53 L202.28,611.92 L203.79,609.40 L205.29,606.98 L206.79,604.65 L208.30,602.39 L209.80,600.22 L211.31,598.12 L212.81,596.09 L214.31,594.13 L215.82,592.23 L217.32,590.40 L218.82,588.62 L220.33,586.89 L221.83,585.22 L223.34,583.60 L224.84,582.03 L226.34,580.50 L227.85,579.02 L229.35,577.58 L230.85,576.18 L232.36,574.81 L233.86,573.49 L235.37,572.20 L236.87,570.94 L238.37,569.72 L239.88,568.53 L241.38,567.37 L242.89,566.24 L244.39,565.14 L245.89,564.06 L247.40,563.01 L248.90,561.99 L250.40,560.99 L251.91,560.01 L253.41,559.06 L254.92,558.12 L256.42,557.21 L257.92,556.32 L259.43,555.45 L260.93,554.60 L262.44,553.76 L263.94,552.95 L265.44,552.15 L266.95,551.37 L268.45,550.60 L269.95,549.85 L271.46,549.11 L272.96,548.39 L274.47,547.69 L275.97,547.00 L277.47,546.32 L278.98,545.65 L280.48,545.00 L281.98,544.36 L283.49,543.73 L284.99,543.12 L286.50,542.51 L288.00,541.92 L289.50,541.33 L291.01,540.76 L292.51,540.20 L294.02,539.65 L295.52,539.10 L297.02,538.57 L298.53,538.05 L300.03,537.53 L301.53,537.02 L303.04,536.53 L304.54,536.04 L306.05,535.55 L307.55,535.08 L309.05,534.61 L310.56,534.15 L312.06,533.70 L313.57,533.26 L315.07,532.82 L316.57,532.39 L318.08,531.97 L319.58,531.55 L321.08,531.14 L322.59,530.73 L324.09,530.33 L325.60,529.94 L327.10,529.55 L328.60,529.17 L330.11,528.80 L331.61,528.43 L333.11,528.06 L334.62,527.70 L336.12,527.35 L337.63,527.00 L339.13,526.65 L340.63,526.31 L342.14,525.97 L343.64,525.64 L345.15,525.32 L346.65,524.99 L348.15,524.68 L349.66,524.36 L351.16,524.05 L352.66,523.75 L354.17,523.45 L355.67,523.15 L357.18,522.86 L358.68,522.57 L360.18,522.28 L361.69,522.00 L363.19,521.72 L364.70,521.44 L366.20,521.17 L367.70,520.90 L369.21,520.64 L370.71,520.37 L372.21,520.11 L373.72,519.86 L375.22,519.61 L376.73,519.36 L378.23,519.11 L379.73,518.86 L381.24,518.62 L382.74,518.39 L384.24,518.15 L385.75,517.92 L387.25,517.69 L388.76,517.46 L390.26,517.23 L391.76,517.01 L393.27,516.79 L394.77,516.57 L396.28,516.36 L397.78,516.14 L399.28,515.93 L400.79,515.73 L402.29,515.52 L403.79,515.32 L405.30,515.11 L406.80,514.91 L408.31,514.72 L409.81,514.52 L411.31,514.33 L412.82,514.14 L414.32,513.95 L415.83,513.76 L417.33,513.57 L418.83,513.39 L420.34,513.21 L421.84,513.03 L423.34,512.85 L424.85,512.67 L426.35,512.50 L427.86,512.33 L429.36,512.16 L430.86,511.99 L432.37,511.82 L433.87,511.65 L435.37,511.49 L436.88,511.32 L438.38,511.16 L439.89,511.00 L441.39,510.84 L442.89,510.69 L444.40,510.53 L445.90,510.38 L447.41,510.23 L448.91,510.07 L450.41,509.92 L451.92,509.78 L453.42,509.63 L454.92,509.48 L456.43,509.34 L457.93,509.20 L459.44,509.05 L460.94,508.91 L462.44,508.77 L463.95,508.64 L465.45,508.50 L466.96,508.36 L468.46,508.23 L469.96,508.10 L471.47,507.96 L472.97,507.83 L474.47,507.70 L475.98,507.57 L477.48,507.45 L478.99,507.32 L480.49,507.19 L481.99,507.07 L483.50,506.95 L485.00,506.82 L486.50,506.70 L488.01,506.58 L489.51,506.46 L491.02,506.34 L492.52,506.23 L494.02,506.11 L495.53,505.99 L497.03,505.88 L498.54,505.76 L500.04,505.65 L501.54,505.54 L503.05,505.43 L504.55,505.32 L506.05,505.21 L507.56,505.10 L509.06,504.99 L510.57,504.89 L512.07,504.78 L513.57,504.68 L515.08,504.57 L516.58,504.47 L518.09,504.36 L519.59,504.26 L521.09,504.16 L522.60,504.06 L524.10,503.96 L525.60,503.86 L527.11,503.76 L528.61,503.67 L530.12,503.57 L531.62,503.47 L533.12,503.38 L534.63,503.28 L536.13,503.19 L537.63,503.10 L539.14,503.00 L540.64,502.91 L542.15,502.82 L543.65,502.73 L545.15,502.64 L546.66,502.55 L548.16,502.46 L549.67,502.37 L551.17,502.29 L552.67,502.20 L554.18,502.11 L555.68,502.03 L557.18,501.94 L558.69,501.86 L560.19,501.78 L561.70,501.69 L563.20,501.61 L564.70,501.53 L566.21,501.45 L567.71,501.36 L569.22,501.28 L570.72,501.20 L572.22,501.12 L573.73,501.05 L575.23,500.97 L576.73,500.89 L578.24,500.81 L579.74,500.74 L581.25,500.66 L582.75,500.58 L584.25,500.51 L585.76,500.43 L587.26,500.36 L588.76,500.28 L590.27,500.21 L591.77,500.14 L593.28,500.07 L594.78,499.99 L596.28,499.92 L597.79,499.85 L599.29,499.78 L600.80,499.71 L602.30,499.64 L603.80,499.57 L605.31,499.50 L606.81,499.43 L608.31,499.37 L609.82,499.30 L611.32,499.23 L612.83,499.16 L614.33,499.10 L615.83,499.03 L617.34,498.97 L618.84,498.90 L620.35,498.84 L621.85,498.77 L623.35,498.71 L624.86,498.64 L626.36,498.58 L627.86,498.52 L629.37,498.46 L630.87,498.39 L632.38,498.33 L633.88,498.27 L635.38,498.21 L636.89,498.15 L638.39,498.09 L639.89,498.03 L641.40,497.97 L642.90,497.91 L644.41,497.85 L645.91,497.79 L647.41,497.73 L648.92,497.68 L650.42,497.62 L651.93,497.56 L653.43,497.50 L654.93,497.45 L656.44,497.39 L657.94,497.34 L659.44,497.28 L660.95,497.23 L662.45,497.17 L663.96,497.12 L665.46,497.06 L666.96,497.01 L668.47,496.95 L669.97,496.90 L671.48,496.85 L672.98,496.79 L674.48,496.74 L675.99,496.69 L677.49,496.64 L678.99,496.58 L680.50,496.53 L682.00,496.48 L683.51,496.43 L685.01,496.38 L686.51,496.33 L688.02,496.28 L689.52,496.23 L691.02,496.18 L692.53,496.13 L694.03,496.08 L695.54,496.03 L697.04,495.98 L698.54,495.94 L700.05,495.89 L701.55,495.84 L703.06,495.79 L704.56,495.74 L706.06,495.70 L707.57,495.65 L709.07,495.60 L710.57,495.56 L712.08,495.51 L713.58,495.47 L715.09,495.42 L716.59,495.37 L718.09,495.33 L719.60,495.28 L721.10,495.24 L722.61,495.20 L724.11,495.15 L725.61,495.11 L727.12,495.06 L728.62,495.02 L730.12,494.98 L731.63,494.93 L733.13,494.89 L734.64,494.85 L736.14,494.80 L737.64,494.76 L739.15,494.72 L740.65,494.68 L742.15,494.64 L743.66,494.59 L745.16,494.55 L746.67,494.51 L748.17,494.47 L749.67,494.43 L751.18,494.39 L752.68,494.35 L754.19,494.31 L755.69,494.27 L757.19,494.23 L758.70,494.19 L760.20,494.15 L761.70,494.11 L763.21,494.07 L764.71,494.03 L766.22,493.99 L767.72,493.96 L769.22,493.92 L770.73,493.88 L772.23,493.84 L773.74,493.80 L775.24,493.77 L776.74,493.73 L778.25,493.69 L779.75,493.65 L781.25,493.62 L782.76,493.58 L784.26,493.54 L785.77,493.51 L787.27,493.47 L788.77,493.44 L790.28,493.40 L791.78,493.36 L793.28,493.33 L794.79,493.29 L796.29,493.26 L797.80,493.22 L799.30,493.19" stroke="#ff0000"/>
<path d="M198.50,581.04 L200.02,578.24 L201.53,575.55 L203.05,572.97 L204.57,570.48 L206.09,568.08 L207.60,565.77 L209.12,563.55 L210.64,561.39 L212.15,559.32 L213.67,557.31 L215.19,555.37 L216.71,553.49 L218.22,551.67 L219.74,549.91 L221.26,548.20 L222.77,546.55 L224.29,544.94 L225.81,543.39 L227.33,541.88 L228.84,540.41 L230.36,538.98 L231.88,537.60 L233.39,536.25 L234.91,534.94 L236.43,533.66 L237.95,532.42 L239.46,531.21 L240.98,530.03 L242.50,528.88 L244.02,527.76 L245.53,526.67 L247.05,525.60 L248.57,524.56 L250.08,523.55 L251.60,522.56 L253.12,521.59 L254.64,520.65 L256.15,519.72 L257.67,518.82 L259.19,517.94 L260.70,517.07 L262.22,516.23 L263.74,515.40 L265.26,514.60 L266.77,513.81 L268.29,513.03 L269.81,512.27 L271.32,511.53 L272.84,510.80 L274.36,510.09 L275.88,509.39 L277.39,508.70 L278.91,508.03 L280.43,507.37 L281.94,506.73 L283.46,506.09 L284.98,505.47 L286.50,504.86 L288.01,504.26 L289.53,503.67 L291.05,503.10 L292.56,502.53 L294.08,501.97 L295.60,501.43 L297.12,500.89 L298.63,500.36 L300.15,499.84 L301.67,499.33 L303.18,498.83 L304.70,498.33 L306.22,497.85 L307.74,497.37 L309.25,496.90 L310.77,496.44 L312.29,495.98 L313.81,495.54 L315.32,495.10 L316.84,494.66 L318.36,494.24 L319.87,493.82 L321.39,493.40 L322.91,493.00 L324.43,492.60 L325.94,492.20 L327.46,491.81 L328.98,491.43 L330.49,491.05 L332.01,490.68 L333.53,490.31 L335.05,489.95 L336.56,489.59 L338.08,489.24 L339.60,488.89 L341.11,488.55 L342.63,488.22 L344.15,487.88 L345.67,487.55 L347.18,487.23 L348.70,486.91" stroke="#ff0000"/>
<path d="M273.60,491.62 L275.11,491.48 L276.61,491.34 L278.12,491.21 L279.63,491.07 L281.13,490.94 L282.64,490.82 L284.14,490.69 L285.65,490.57 L287.16,490.45 L288.66,490.33 L290.17,490.22 L291.68,490.10 L293.18,489.99 L294.69,489.88 L296.19,489.77 L297.70,489.67 L299.21,489.56 L300.71,489.46 L302.22,489.36 L303.73,489.26 L305.23,489.16 L306.74,489.07 L308.24,488.97 L309.75,488.88 L311.26,488.79 L312.76,488.70 L314.27,488.61 L315.78,488.52 L317.28,488.44 L318.79,488.35 L320.30,488.27 L321.80,488.19 L323.31,488.11 L324.81,488.03 L326.32,487.95 L327.83,487.87 L329.33,487.80 L330.84,487.72 L332.35,487.65 L333.85,487.58 L335.36,487.50 L336.86,487.43 L338.37,487.36 L339.88,487.30 L341.38,487.23 L342.89,487.16 L344.40,487.10 L345.90,487.03 L347.41,486.97 L348.92,486.90 L350.42,486.84 L351.93,486.78 L353.43,486.72 L354.94,486.66 L356.45,486.60 L357.95,486.54 L359.46,486.48 L360.97,486.43 L362.47,486.37 L363.98,486.31 L365.48,486.26 L366.99,486.21 L368.50,486.15 L370.00,486.10 L371.51,486.05 L373.02,486.00 L374.52,485.94 L376.03,485.89 L377.53,485.84 L379.04,485.80 L380.55,485.75 L382.05,485.70 L383.56,485.65 L385.07,485.60 L386.57,485.56 L388.08,485.51 L389.59,485.47 L391.09,485.42 L392.60,485.38 L394.10,485.33 L395.61,485.29 L397.12,485.25 L398.62,485.21 L400.13,485.16 L401.64,485.12 L403.14,485.08 L404.65,485.04 L406.15,485.00 L407.66,484.96 L409.17,484.92 L410.67,484.88 L412.18,484.84 L413.69,484.81 L415.19,484.77 L416.70,484.73 L418.21,484.69 L419.71,484.66 L421.22,484.62 L422.72,484.58 L424.23,484.55 L425.74,484.51 L427.24,484.48 L428.75,484.44 L430.26,484.41 L431.76,484.38 L433.27,484.34 L434.77,484.31 L436.28,484.28 L437.79,484.25 L439.29,484.21 L440.80,484.18 L442.31,484.15 L443.81,484.12 L445.32,484.09 L446.82,484.06 L448.33,484.03 L449.84,484.00 L451.34,483.97 L452.85,483.94 L454.36,483.91 L455.86,483.88 L457.37,483.85 L458.88,483.82 L460.38,483.79 L461.89,483.77 L463.39,483.74 L464.90,483.71 L466.41,483.68 L467.91,483.66 L469.42,483.63 L470.93,483.60 L472.43,483.58 L473.94,483.55 L475.44,483.52 L476.95,483.50 L478.46,483.47 L479.96,483.45 L481.47,483.42 L482.98,483.40 L484.48,483.37 L485.99,483.35 L487.50,483.32 L489.00,483.30 L490.51,483.28 L492.01,483.25 L493.52,483.23 L495.03,483.21 L496.53,483.18 L498.04,483.16 L499.55,483.14 L501.05,483.12 L502.56,483.09 L504.06,483.07 L505.57,483.05 L507.08,483.03 L508.58,483.01 L510.09,482.98 L511.60,482.96 L513.10,482.94 L514.61,482.92 L516.11,482.90 L517.62,482.88 L519.13,482.86 L520.63,482.84 L522.14,482.82 L523.65,482.80 L525.15,482.78 L526.66,482.76 L528.17,482.74 L529.67,482.72 L531.18,482.70 L532.68,482.68 L534.19,482.66 L535.70,482.64 L537.20,482.62 L538.71,482.61 L540.22,482.59 L541.72,482.57 L543.23,482.55 L544.73,482.53 L546.24,482.52 L547.75,482.50 L549.25,482.48 L550.76,482.46 L552.27,482.44 L553.77,482.43 L555.28,482.41 L556.79,482.39 L558.29,482.38 L559.80,482.36 L561.30,482.34 L562.81,482.33 L564.32,482.31 L565.82,482.29 L567.33,482.28 L568.84,482.26 L570.34,482.24 L571.85,482.23 L573.35,482.21 L574.86,482.20 L576.37,482.18 L577.87,482.17 L579.38,482.15 L580.89,482.14 L582.39,482.12 L583.90,482.11 L585.40,482.09 L586.91,482.08 L588.42,482.06 L589.92,482.05 L591.43,482.03 L592.94,482.02 L594.44,482.00 L595.95,481.99 L597.46,481.97 L598.96,481.96 L600.47,481.95 L601.97,481.93 L603.48,481.92 L604.99,481.90 L606.49,481.89 L608.00,481.88 L609.51,481.86 L611.01,481.85 L612.52,481.84 L614.02,481.82 L615.53,481.81 L617.04,481.80 L618.54,481.78 L620.05,481.77 L621.56,481.76 L623.06,481.74 L624.57,481.73 L626.08,481.72 L627.58,481.71 L629.09,481.69 L630.59,481.68 L632.10,481.67 L633.61,481.66 L635.11,481.64 L636.62,481.63 L638.13,481.62 L639.63,481.61 L641.14,481.60 L642.64,481.58 L644.15,481.57 L645.66,481.56 L647.16,481.55 L648.67,481.54 L650.18,481.53 L651.68,481.51 L653.19,481.50 L654.69,481.49 L656.20,481.48 L657.71,481.47 L659.21,481.46 L660.72,481.45 L662.23,481.44 L663.73,481.42 L665.24,481.41 L666.75,481.40 L668.25,481.39 L669.76,481.38 L671.26,481.37 L672.77,481.36 L674.28,481.35 L675.78,481.34 L677.29,481.33 L678.80,481.32 L680.30,481.31 L681.81,481.30 L683.31,481.29 L684.82,481.28 L686.33,481.27 L687.83,481.26 L689.34,481.25 L690.85,481.24 L692.35,481.23 L693.86,481.22 L695.37,481.21 L696.87,481.20 L698.38,481.19 L699.88,481.18 L701.39,481.17 L702.90,481.16 L704.40,481.15 L705.91,481.14 L707.42,481.13 L708.92,481.12 L710.43,481.11 L711.93,481.10 L713.44,481.09 L714.95,481.08 L716.45,481.08 L717.96,481.07 L719.47,481.06 L720.97,481.05 L722.48,481.04 L723.98,481.03 L725.49,481.02 L727.00,481.01 L728.50,481.00 L730.01,481.00 L731.52,480.99 L733.02,480.98 L734.53,480.97 L736.04,480.96 L737.54,480.95 L739.05,480.94 L740.55,480.94 L742.06,480.93 L743.57,480.92 L745.07,480.91 L746.58,480.90 L748.09,480.89 L749.59,480.89 L751.10,480.88 L752.60,480.87 L754.11,480.86 L755.62,480.85 L757.12,480.85 L758.63,480.84 L760.14,480.83 L761.64,480.82 L763.15,480.81 L764.66,480.81 L766.16,480.80 L767.67,480.79 L769.17,480.78 L770.68,480.78 L772.19,480.77 L773.69,480.76 L775.20,480.75 L776.71,480.75 L778.21,480.74 L779.72,480.73 L781.22,480.72 L782.73,480.72 L784.24,480.71 L785.74,480.70 L787.25,480.69 L788.76,480.69 L790.26,480.68 L791.77,480.67 L793.27,480.67 L794.78,480.66 L796.29,480.65 L797.79,480.64 L799.30,480.64" stroke="#ff0000"/>
<path d="M123.40,891.65 L179.73,778.70 L181.29,765.47 L182.85,752.94 L184.42,741.05 L185.98,729.75 L187.55,719.01 L189.11,708.78 L190.68,699.02 L192.24,689.71 L193.81,680.81 L195.37,672.30 L196.94,664.15 L198.50,656.34 L200.06,648.85 L201.63,641.65 L203.19,634.74 L204.76,628.10 L206.32,621.71 L207.89,615.55 L209.45,609.62 L211.02,603.90 L212.58,598.38 L214.15,593.05 L215.71,587.90 L217.28,582.92 L218.84,578.11 L220.40,573.45 L221.97,568.94 L223.53,564.57 L225.10,560.33 L226.66,556.22 L228.23,552.24 L229.79,548.37 L231.36,544.62 L232.92,540.97 L234.49,537.42 L236.05,533.98" stroke="#ff0000"/>
<path d="M123.40,891.65 L173.47,657.38" stroke="#ff0000"/>
<path d="M123.40,891.65 L179.73,665.75" stroke="#ff0000"/>
<path d="M123.40,1042.25 L179.73,703.40 L181.74,681.33 L183.75,660.73 L185.76,641.46 L187.77,623.39" stroke="#ff0000"/>
</g>
<line x1="236.05" y1="477.5" x2="236.05" y2="854.2" stroke="#000" stroke-width="1.78"/>
<rect x="123.4" y="477.5" width="675.9" height="376.7" fill="none" stroke="#000" stroke-width="3.05"/>
<line x1="123.4" y1="854.2" x2="123.4" y2="866.7" stroke="#000" stroke-width="3.05"/>
<text x="123.4" y="900.1" font-family="Liberation Serif, serif" font-size="30.3" text-anchor="middle">0.00</text>
<line x1="236.05" y1="854.2" x2="236.05" y2="866.7" stroke="#000" stroke-width="3.05"/>
<text x="236.05" y="900.1" font-family="Liberation Serif, serif" font-size="30.3" text-anchor="middle">0.25</text>
<line x1="348.7" y1="854.2" x2="348.7" y2="866.7" stroke="#000" stroke-width="3.05"/>
<text x="348.7" y="900.1" font-family="Liberation Serif, serif" font-size="30.3" text-anchor="middle">0.50</text>
<line x1="461.35" y1="854.2" x2="461.35" y2="866.7" stroke="#000" stroke-width="3.05"/>
<text x="461.35" y="900.1" font-family="Liberation Serif, serif" font-size="30.3" text-anchor="middle">0.75</text>
<line x1="574" y1="854.2" x2="574" y2="866.7" stroke="#000" stroke-width="3.05"/>
<text x="574" y="900.1" font-family="Liberation Serif, serif" font-size="30.3" text-anchor="middle">1.00</text>
<line x1="686.65" y1="854.2" x2="686.65" y2="866.7" stroke="#000" stroke-width="3.05"/>
<text x="686.65" y="900.1" font-family="Liberation Serif, serif" font-size="30.3" text-anchor="middle">1.25</text>
<line x1="799.3" y1="854.2" x2="799.3" y2="866.7" stroke="#000" stroke-width="3.05"/>
<text x="799.3" y="900.1" font-family="Liberation Serif, serif" font-size="30.3" text-anchor="middle">1.50</text>
<line x1="110.9" y1="477.5" x2="123.4" y2="477.5" stroke="#000" stroke-width="3.05"/>
<text x="97.3" y="487.8" font-family="Liberation Serif, serif" font-size="30.3" text-anchor="end"><tspan font-size="39" dy="6.1">&#8722;</tspan><tspan dy="-6.1" dx="0.8">0.5</tspan></text>
<line x1="110.9" y1="552.8" x2="123.4" y2="552.8" stroke="#000" stroke-width="3.05"/>
<text x="97.3" y="563.1" font-family="Liberation Serif, serif" font-size="30.3" text-anchor="end"><tspan font-size="39" dy="6.1">&#8722;</tspan><tspan dy="-6.1" dx="0.8">1.0</tspan></text>
<line x1="110.9" y1="628.1" x2="123.4" y2="628.1" stroke="#000" stroke-width="3.05"/>
<text x="97.3" y="638.4" font-family="Liberation Serif, serif" font-size="30.3" text-anchor="end"><tspan font-size="39" dy="6.1">&#8722;</tspan><tspan dy="-6.1" dx="0.8">1.5</tspan></text>
<line x1="110.9" y1="703.4" x2="123.4" y2="703.4" stroke="#000" stroke-width="3.05"/>
<text x="97.3" y="713.7" font-family="Liberation Serif, serif" font-size="30.3" text-anchor="end"><tspan font-size="39" dy="6.1">&#8722;</tspan><tspan dy="-6.1" dx="0.8">2.0</tspan></text>
<line x1="110.9" y1="778.7" x2="123.4" y2="778.7" stroke="#000" stroke-width="3.05"/>
<text x="97.3" y="789" font-family="Liberation Serif, serif" font-size="30.3" text-anchor="end"><tspan font-size="39" dy="6.1">&#8722;</tspan><tspan dy="-6.1" dx="0.8">2.5</tspan></text>
<line x1="110.9" y1="854" x2="123.4" y2="854" stroke="#000" stroke-width="3.05"/>
<text x="97.3" y="864.3" font-family="Liberation Serif, serif" font-size="30.3" text-anchor="end"><tspan font-size="39" dy="6.1">&#8722;</tspan><tspan dy="-6.1" dx="0.8">3.0</tspan></text>
<g transform="translate(27.3,756.4) rotate(-90)"><text x="-2.65" y="0.00" font-family="Liberation Sans, sans-serif" font-size="34.8" textLength="105.00" lengthAdjust="spacingAndGlyphs">Energy</text><text x="115.60" y="0.00" font-family="Liberation Serif, serif" font-size="38" font-style="italic" textLength="27.3" lengthAdjust="spacingAndGlyphs">E</text><text x="144.70" y="7.70" font-family="Liberation Serif, serif" font-size="52.7">/</text><text x="161.20" y="0.00" font-family="Liberation Serif, serif" font-size="38" font-style="italic" textLength="20.6" lengthAdjust="spacingAndGlyphs">J</text></g>
<text x="285.91" y="943.70" font-family="Liberation Sans, sans-serif" font-size="34.8" textLength="317.46" lengthAdjust="spacingAndGlyphs">Energy penalty factor</text>
<text x="618.4" y="943.6" font-family="Liberation Serif, serif" font-size="34" font-style="italic" textLength="17.8" lengthAdjust="spacingAndGlyphs">&#955;</text>
<text x="273.36" y="824.10" font-family="Liberation Sans, sans-serif" font-size="26.5" textLength="295.72" lengthAdjust="spacingAndGlyphs">(b) Energy spectrum of</text>
<text x="581.3" y="823.5" font-family="Liberation Serif, serif" font-size="29.5" font-style="italic">H</text>
<text x="604.8" y="827.2" font-family="Liberation Serif, serif" font-size="24" textLength="42.5" lengthAdjust="spacingAndGlyphs">cost</text>
<rect x="278.15" y="627.55" width="433.9" height="76.7" rx="4.5" fill="#fff" fill-opacity="0.8" stroke="#d6d6d6" stroke-width="3.5"/>
<line x1="287.3" y1="645.9" x2="338.2" y2="645.9" stroke="#008000" stroke-width="1.8"/>
<line x1="287.3" y1="680.8" x2="338.2" y2="680.8" stroke="#ff0000" stroke-width="1.8"/>
<text x="357.48" y="654.10" font-family="Liberation Sans, sans-serif" font-size="23" textLength="339.55" lengthAdjust="spacingAndGlyphs">Eigenstate fulfilling constraints</text>
<text x="357.50" y="689.20" font-family="Liberation Sans, sans-serif" font-size="23" textLength="345.00" lengthAdjust="spacingAndGlyphs">Eigenstate violating constraints</text>
</svg></body></html>
